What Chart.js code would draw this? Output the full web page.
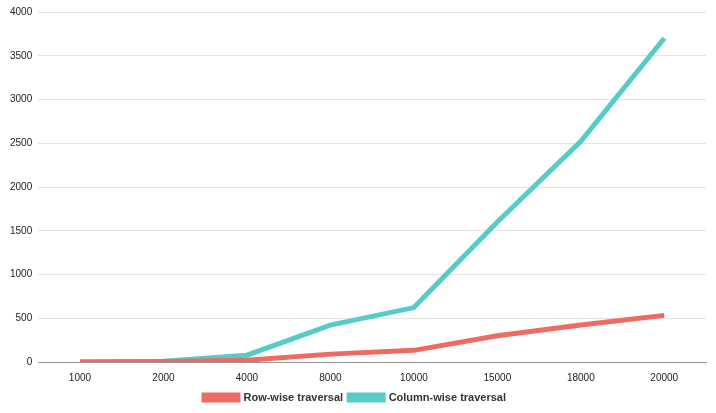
<!DOCTYPE html>
<html><head><script src="https://cdn.jsdelivr.net/npm/chart.js@4"></script>
<style>html,body{margin:0;background:#fff}#w{width:716px;height:413px}</style></head>
<body><div id="w"><canvas id="c"></canvas></div>
<script>
const categories=["1000","2000","4000","8000","10000","15000","18000","20000"];
const rowWise=[0,5,20,90,133,300,422,533];
const colWise=[0,10,78,422,622,1600,2522,3700];
const yTicks=[0,500,1000,1500,2000,2500,3000,3500,4000];
new Chart(document.getElementById('c'),{type:'line',
data:{labels:categories,datasets:[
{label:'Row-wise traversal',data:rowWise,borderColor:'#EE6B64',backgroundColor:'#EE6B64',borderWidth:5,pointRadius:0,tension:0},
{label:'Column-wise traversal',data:colWise,borderColor:'#55CCC7',backgroundColor:'#55CCC7',borderWidth:5,pointRadius:0,tension:0}]},
options:{responsive:true,maintainAspectRatio:false,animation:false,
layout:{padding:{left:4,right:10,top:2,bottom:0}},
plugins:{legend:{position:'bottom',labels:{boxWidth:34,boxHeight:5,font:{family:'Liberation Sans',size:11,weight:'bold'},color:'#333',padding:6}},tooltip:{enabled:false}},
scales:{x:{offset:true,grid:{display:false},border:{color:'#999'},ticks:{padding:2,font:{family:'Liberation Sans',size:10},color:'#222'}},
y:{min:0,max:4000,afterBuildTicks:a=>{a.ticks=yTicks.map(v=>({value:v}))},grid:{color:'#e4e4e4',drawTicks:false},border:{display:false},ticks:{padding:6,callback:v=>String(v),font:{family:'Liberation Sans',size:10},color:'#222'}}}}});
</script></body></html>
